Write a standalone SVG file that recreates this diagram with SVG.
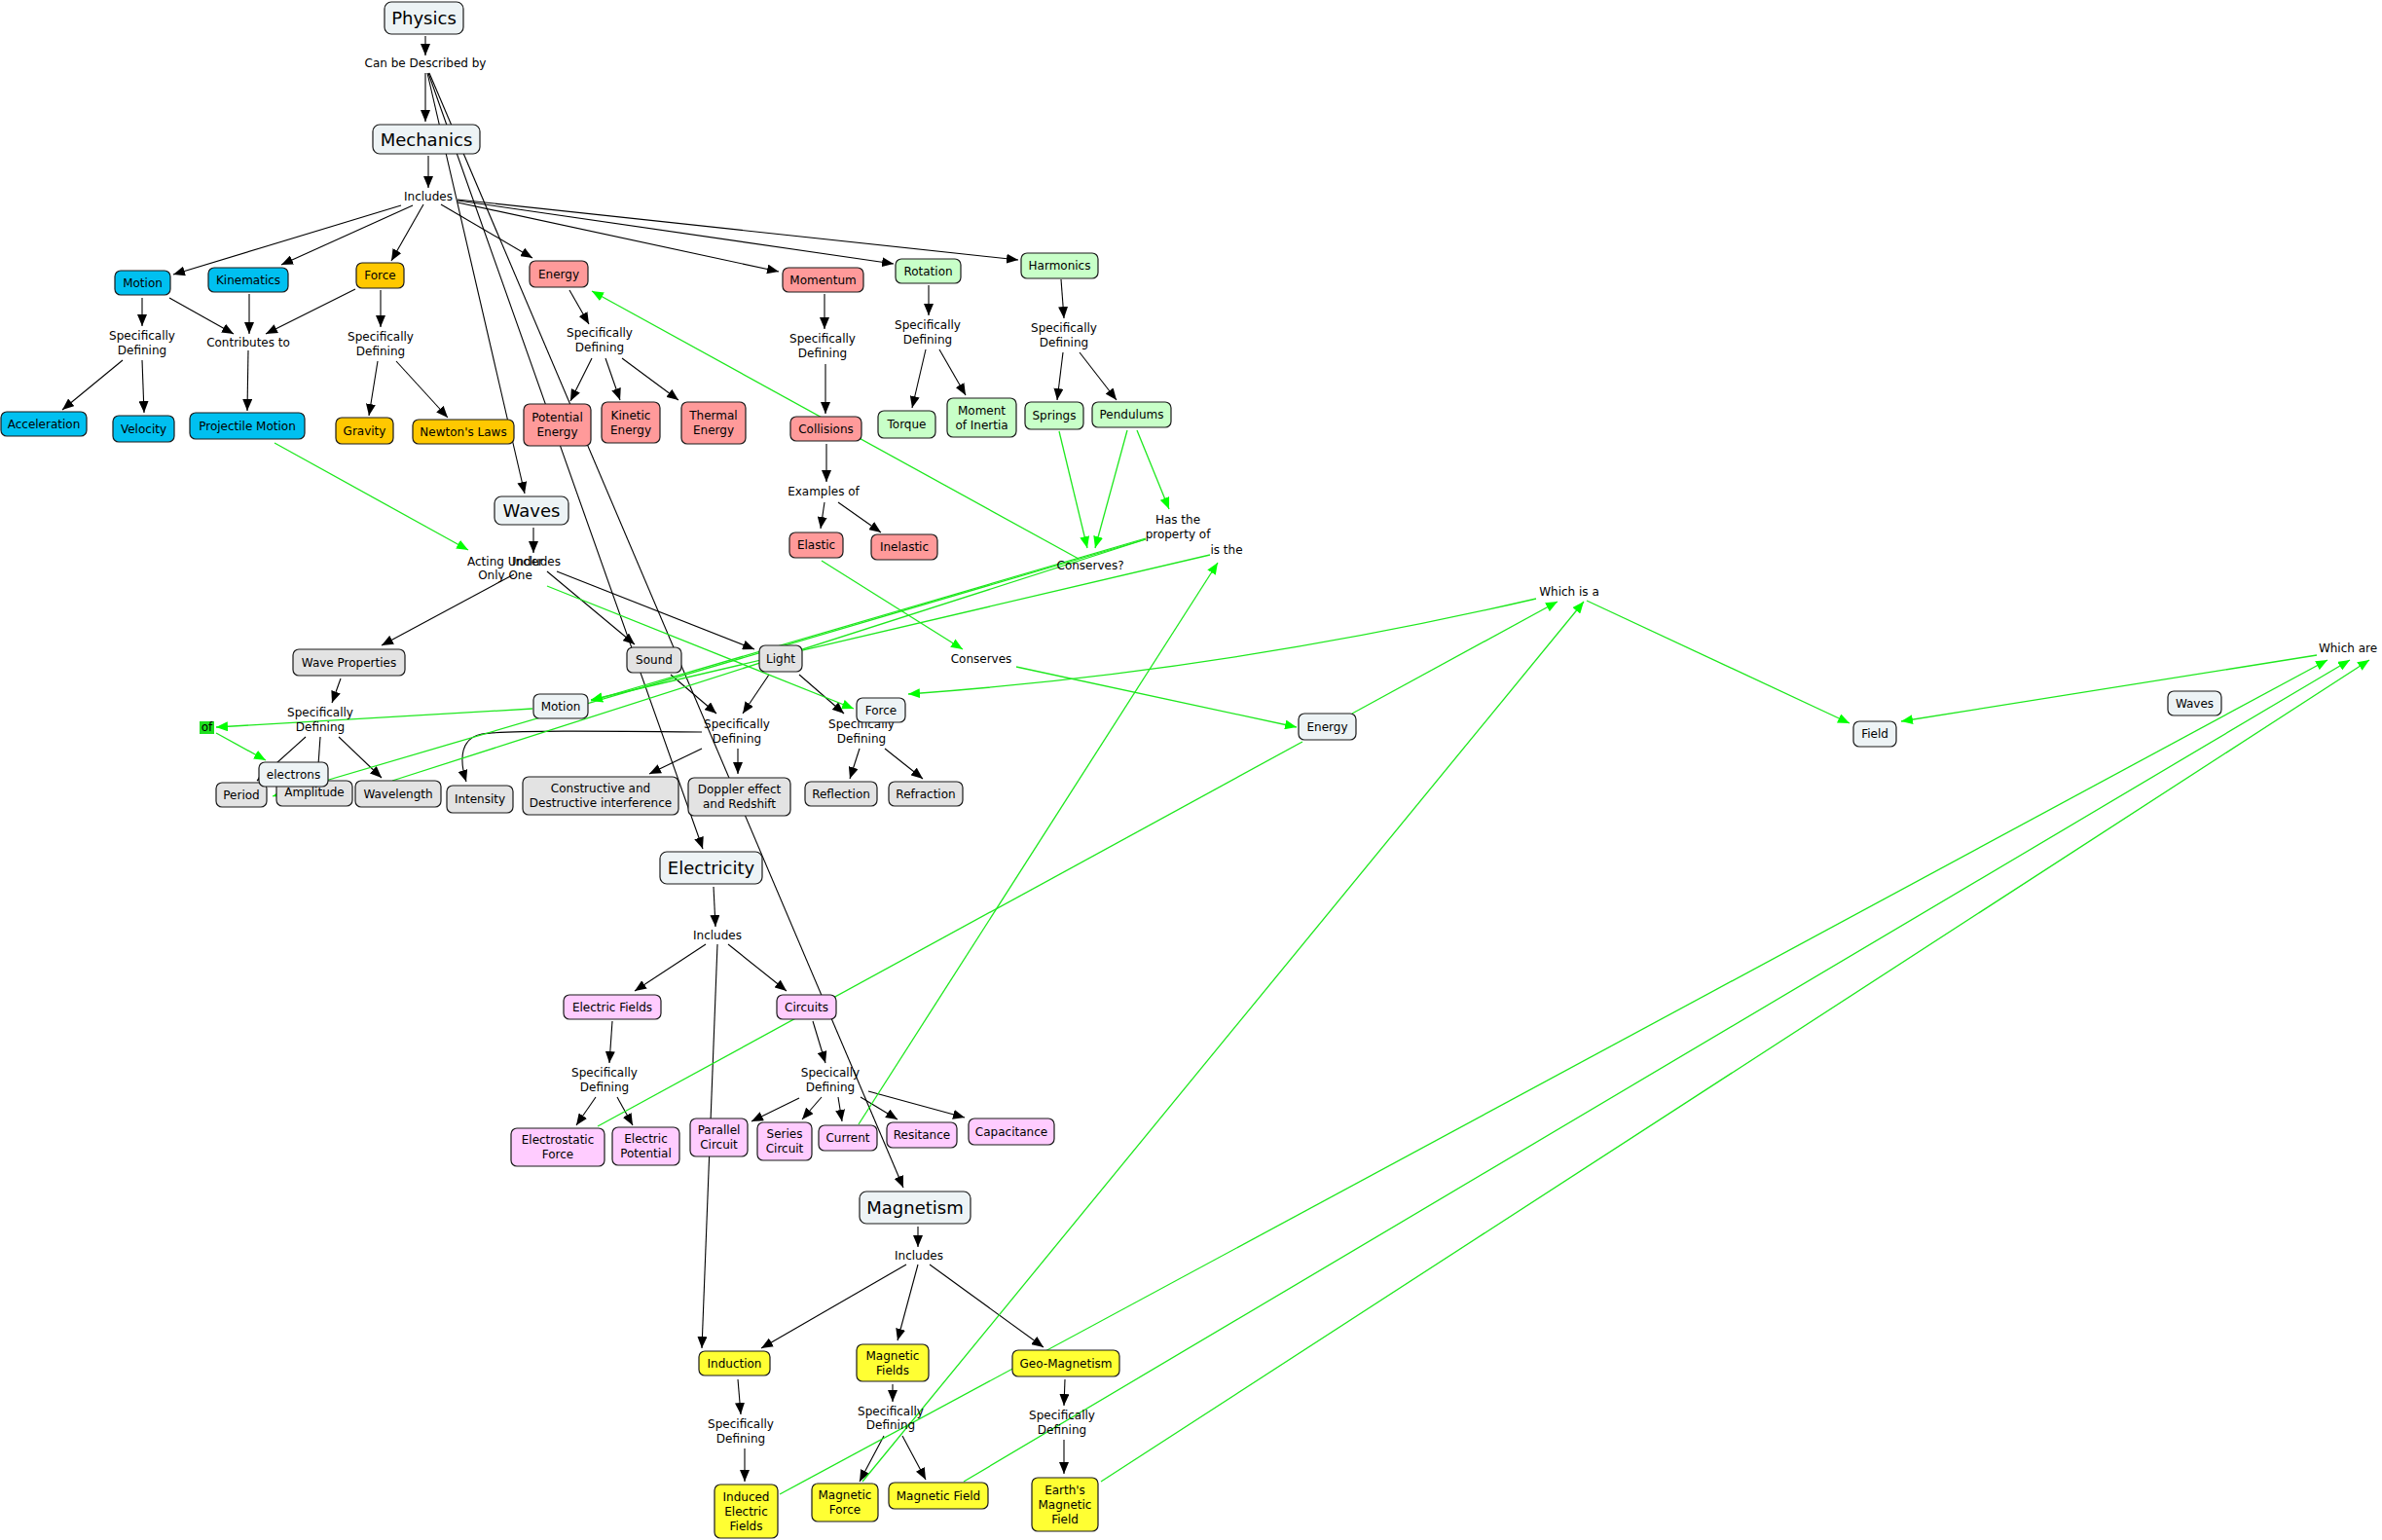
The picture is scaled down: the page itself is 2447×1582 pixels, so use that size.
<svg xmlns="http://www.w3.org/2000/svg" width="2447" height="1582" viewBox="0 0 2447 1582">
<style>
text{font-family:"DejaVu Sans",Verdana,sans-serif;font-size:12px;fill:#000;text-anchor:middle}
.big{font-size:18px}
.n rect{stroke:#1a1a1a;stroke-width:1.2}
.c1 rect{fill:#edf3f5}.cy rect{fill:#00c0f0}.or rect{fill:#ffc800}.rd rect{fill:#ff9a9a}
.gr rect{fill:#c8ffc8}.gy rect{fill:#e3e3e3}.pk rect{fill:#ffccff}.yl rect{fill:#ffff33}
.b line,.b path{stroke:#000;stroke-width:1.1;fill:none;marker-end:url(#aB)}
.g line,.g path{stroke:#1ee81e;stroke-width:1.3;fill:none;marker-end:url(#aG)}
.g .nm{marker-end:none}
</style>
<defs>
<marker id="aB" markerUnits="userSpaceOnUse" markerWidth="12" markerHeight="10" viewBox="0 0 12 10" refX="12" refY="5" orient="auto"><path d="M0,0L12,5L0,10z" fill="#000"/></marker>
<marker id="aG" markerUnits="userSpaceOnUse" markerWidth="12" markerHeight="10" viewBox="0 0 12 10" refX="12" refY="5" orient="auto"><path d="M0,0L12,5L0,10z" fill="#00ff00"/></marker>
</defs>
<rect width="2447" height="1582" fill="#fff"/>
<g id="connectors">
<g class="b">
<line x1="437" y1="37" x2="437" y2="57"/>
<line x1="437" y1="75" x2="437" y2="125"/>
<line x1="439" y1="75" x2="539" y2="507"/>
<line x1="440" y1="75" x2="722" y2="872"/>
<line x1="441" y1="75" x2="928" y2="1220"/>
<line x1="440" y1="160" x2="440" y2="193"/>
<line x1="412" y1="211" x2="178" y2="282"/>
<line x1="424" y1="211" x2="289" y2="272"/>
<line x1="435" y1="210" x2="402" y2="268"/>
<line x1="453" y1="210" x2="547" y2="265"/>
<line x1="470" y1="208" x2="800" y2="279"/>
<line x1="470" y1="206" x2="918" y2="271"/>
<line x1="470" y1="205" x2="1046" y2="267"/>
<line x1="146" y1="306" x2="146" y2="335"/>
<line x1="174" y1="306" x2="240" y2="343"/>
<line x1="256" y1="302" x2="256" y2="343"/>
<line x1="365" y1="297" x2="273" y2="343"/>
<line x1="391" y1="298" x2="391" y2="336"/>
<line x1="126" y1="370" x2="64" y2="421"/>
<line x1="146" y1="370" x2="148" y2="424"/>
<line x1="255" y1="360" x2="254" y2="422"/>
<line x1="388" y1="371" x2="379" y2="427"/>
<line x1="407" y1="371" x2="460" y2="429"/>
<line x1="585" y1="298" x2="605" y2="333"/>
<line x1="608" y1="368" x2="586" y2="412"/>
<line x1="622" y1="368" x2="637" y2="411"/>
<line x1="639" y1="368" x2="697" y2="411"/>
<line x1="847" y1="302" x2="847" y2="338"/>
<line x1="848" y1="374" x2="848" y2="425"/>
<line x1="954" y1="293" x2="954" y2="324"/>
<line x1="951" y1="359" x2="937" y2="419"/>
<line x1="965" y1="359" x2="992" y2="406"/>
<line x1="1090" y1="287" x2="1093" y2="327"/>
<line x1="1092" y1="362" x2="1086" y2="411"/>
<line x1="1109" y1="362" x2="1147" y2="411"/>
<line x1="849" y1="456" x2="849" y2="495"/>
<line x1="847" y1="516" x2="843" y2="543"/>
<line x1="861" y1="516" x2="905" y2="547"/>
<line x1="548" y1="542" x2="548" y2="568"/>
<line x1="528" y1="590" x2="392" y2="663"/>
<line x1="562" y1="587" x2="652" y2="662"/>
<line x1="572" y1="587" x2="775" y2="667"/>
<line x1="689" y1="693" x2="736" y2="733"/>
<line x1="790" y1="693" x2="763" y2="733"/>
<line x1="821" y1="693" x2="867" y2="733"/>
<path d="M721,752 C620,751 520,750 495,754 C474,758 471,778 479,803"/>
<line x1="721" y1="769" x2="667" y2="795"/>
<line x1="758" y1="769" x2="758" y2="795"/>
<line x1="883" y1="769" x2="873" y2="800"/>
<line x1="909" y1="769" x2="948" y2="800"/>
<line x1="350" y1="697" x2="341" y2="722"/>
<line x1="314" y1="757" x2="264" y2="802"/>
<line x1="329" y1="757" x2="326" y2="800"/>
<line x1="348" y1="757" x2="392" y2="799"/>
<line x1="733" y1="911" x2="735" y2="952"/>
<line x1="725" y1="970" x2="652" y2="1018"/>
<line x1="748" y1="970" x2="808" y2="1018"/>
<line x1="737" y1="970" x2="721" y2="1385"/>
<line x1="629" y1="1049" x2="626" y2="1092"/>
<line x1="612" y1="1127" x2="592" y2="1156"/>
<line x1="634" y1="1127" x2="650" y2="1156"/>
<line x1="835" y1="1049" x2="848" y2="1092"/>
<line x1="821" y1="1128" x2="772" y2="1152"/>
<line x1="844" y1="1127" x2="824" y2="1150"/>
<line x1="861" y1="1127" x2="865" y2="1152"/>
<line x1="884" y1="1127" x2="922" y2="1150"/>
<line x1="892" y1="1121" x2="991" y2="1148"/>
<line x1="943" y1="1260" x2="943" y2="1281"/>
<line x1="931" y1="1299" x2="782" y2="1385"/>
<line x1="943" y1="1299" x2="922" y2="1377"/>
<line x1="955" y1="1299" x2="1072" y2="1384"/>
<line x1="758" y1="1417" x2="761" y2="1453"/>
<line x1="765" y1="1488" x2="765" y2="1522"/>
<line x1="917" y1="1422" x2="917" y2="1440"/>
<line x1="908" y1="1475" x2="883" y2="1522"/>
<line x1="927" y1="1475" x2="951" y2="1520"/>
<line x1="1094" y1="1417" x2="1093" y2="1444"/>
<line x1="1093" y1="1479" x2="1093" y2="1514"/>
</g>
<g class="g">
<line x1="282" y1="455" x2="481" y2="565"/>
<line x1="562" y1="602" x2="877" y2="728"/>
<line x1="1108" y1="574" x2="608" y2="299"/>
<line x1="1088" y1="443" x2="1117" y2="563"/>
<line x1="1158" y1="442" x2="1125" y2="563"/>
<line x1="1168" y1="442" x2="1201" y2="523"/>
<line x1="1177" y1="553" x2="607" y2="720"/>
<line x1="1177" y1="554" x2="280" y2="818"/>
<line class="nm" x1="1177" y1="554" x2="403" y2="802"/>
<line x1="1243" y1="570" x2="607" y2="719"/>
<line x1="547" y1="728" x2="222" y2="747"/>
<line x1="222" y1="753" x2="273" y2="781"/>
<line x1="844" y1="576" x2="989" y2="667"/>
<line x1="1044" y1="685" x2="1332" y2="747"/>
<path d="M1578,615 Q1254,690 933,713"/>
<line x1="1389" y1="733" x2="1600" y2="618"/>
<line x1="886" y1="1522" x2="1627" y2="618"/>
<line x1="1630" y1="617" x2="1900" y2="743"/>
<line x1="2380" y1="673" x2="1953" y2="741"/>
<line x1="801" y1="1535" x2="2391" y2="678"/>
<line x1="990" y1="1522" x2="2414" y2="678"/>
<line x1="1131" y1="1522" x2="2434" y2="678"/>
<line x1="882" y1="1155" x2="1251" y2="578"/>
<line class="nm" x1="614" y1="1157" x2="1338" y2="762"/>
</g>
</g>
<g id="labels">
<g id="l-described"><text x="437" y="69.3">Can be Described by</text></g>
<g id="l-includes-mech"><text x="440" y="206.3">Includes</text></g>
<g id="l-sd-motion"><text x="146" y="349.3">Specifically</text><text x="146" y="363.8">Defining</text></g>
<g id="l-contributes"><text x="255" y="356.3">Contributes to</text></g>
<g id="l-sd-force"><text x="391" y="350.3">Specifically</text><text x="391" y="365.3">Defining</text></g>
<g id="l-sd-energy"><text x="616" y="346.3">Specifically</text><text x="616" y="361.3">Defining</text></g>
<g id="l-sd-momentum"><text x="845" y="352.3">Specifically</text><text x="845" y="367.3">Defining</text></g>
<g id="l-sd-rotation"><text x="953" y="338.3">Specifically</text><text x="953" y="353.3">Defining</text></g>
<g id="l-sd-harmonics"><text x="1093" y="341.3">Specifically</text><text x="1093" y="356.3">Defining</text></g>
<g id="l-examples"><text x="846" y="509.3">Examples of</text></g>
<g id="l-hasprop"><text x="1210" y="538.3">Has the</text><text x="1210" y="553.3">property of</text></g>
<g id="l-isthe"><text x="1260" y="569.3">is the</text></g>
<g id="l-conserves-q"><text x="1120" y="585.3">Conserves?</text></g>
<g id="l-conserves"><text x="1008" y="681.3">Conserves</text></g>
<g id="l-whichisa"><text x="1612" y="612.3">Which is a</text></g>
<g id="l-whichare"><text x="2412" y="670.3">Which are</text></g>
<g id="l-acting"><text x="519" y="581.3">Acting Under</text><text x="519" y="595.3">Only One</text></g>
<g id="l-includes-waves"><text x="551" y="581.3">Includes</text></g>
<g id="l-sd-wp"><text x="329" y="736.3">Specifically</text><text x="329" y="751.3">Defining</text></g>
<g id="l-of"><rect x="205" y="741" width="15" height="13" fill="#1ee01e"/><text x="212.5" y="751.3">of</text></g>
<g id="l-sd-sound"><text x="757" y="748.3">Specifically</text><text x="757" y="763.3">Defining</text></g>
<g id="l-sd-light"><text x="885" y="748.3">Specifically</text><text x="885" y="763.3">Defining</text></g>
<g id="l-includes-elec"><text x="737" y="965.3">Includes</text></g>
<g id="l-sd-ef"><text x="621" y="1106.3">Specifically</text><text x="621" y="1121.3">Defining</text></g>
<g id="l-sd-circ"><text x="853" y="1106.3">Specically</text><text x="853" y="1121.3">Defining</text></g>
<g id="l-includes-mag"><text x="944" y="1294.3">Includes</text></g>
<g id="l-sd-ind"><text x="761" y="1467.3">Specifically</text><text x="761" y="1482.3">Defining</text></g>
<g id="l-sd-mf"><text x="915" y="1454.3">Specifically</text><text x="915" y="1468.3">Defining</text></g>
<g id="l-sd-geo"><text x="1091" y="1458.3">Specifically</text><text x="1091" y="1473.3">Defining</text></g>
</g>
<g id="nodes">
<g id="physics" class="n c1"><rect x="395" y="2" width="81" height="33" rx="7"/><text class="big" x="435.5" y="25">Physics</text></g>
<g id="mechanics" class="n c1"><rect x="383" y="128" width="110" height="30" rx="7"/><text class="big" x="438" y="149.5">Mechanics</text></g>
<g id="waves" class="n c1"><rect x="508" y="510" width="76" height="29" rx="7"/><text class="big" x="546" y="531">Waves</text></g>
<g id="electricity" class="n c1"><rect x="678" y="875" width="105" height="33" rx="7"/><text class="big" x="730.5" y="898">Electricity</text></g>
<g id="magnetism" class="n c1"><rect x="883" y="1224" width="114" height="33" rx="7"/><text class="big" x="940" y="1247">Magnetism</text></g>
<g id="motion" class="n cy"><rect x="118" y="278" width="57" height="25" rx="6"/><text x="146.5" y="294.8">Motion</text></g>
<g id="kinematics" class="n cy"><rect x="214" y="275" width="82" height="25" rx="6"/><text x="255" y="291.8">Kinematics</text></g>
<g id="force" class="n or"><rect x="366" y="270" width="49" height="26" rx="6"/><text x="390.5" y="287.3">Force</text></g>
<g id="energy" class="n rd"><rect x="544" y="268" width="60" height="27" rx="6"/><text x="574" y="285.8">Energy</text></g>
<g id="momentum" class="n rd"><rect x="804" y="275" width="83" height="25" rx="6"/><text x="845.5" y="291.8">Momentum</text></g>
<g id="rotation" class="n gr"><rect x="920" y="266" width="67" height="25" rx="6"/><text x="953.5" y="282.8">Rotation</text></g>
<g id="harmonics" class="n gr"><rect x="1049" y="260" width="79" height="26" rx="6"/><text x="1088.5" y="277.3">Harmonics</text></g>
<g id="acceleration" class="n cy"><rect x="1" y="423" width="88" height="25" rx="6"/><text x="45" y="439.8">Acceleration</text></g>
<g id="velocity" class="n cy"><rect x="116" y="427" width="63" height="27" rx="6"/><text x="147.5" y="444.8">Velocity</text></g>
<g id="projectile" class="n cy"><rect x="195" y="424" width="118" height="27" rx="6"/><text x="254" y="441.8">Projectile Motion</text></g>
<g id="gravity" class="n or"><rect x="345" y="429" width="59" height="27" rx="6"/><text x="374.5" y="446.8">Gravity</text></g>
<g id="newton" class="n or"><rect x="424" y="431" width="104" height="25" rx="6"/><text x="476" y="447.8">Newton's Laws</text></g>
<g id="potential" class="n rd"><rect x="538" y="415" width="69" height="43" rx="6"/><text x="572.5" y="433.3">Potential</text><text x="572.5" y="448.3">Energy</text></g>
<g id="kinetic" class="n rd"><rect x="618" y="413" width="60" height="42" rx="6"/><text x="648" y="430.8">Kinetic</text><text x="648" y="445.8">Energy</text></g>
<g id="thermal" class="n rd"><rect x="700" y="413" width="66" height="43" rx="6"/><text x="733" y="431.3">Thermal</text><text x="733" y="446.3">Energy</text></g>
<g id="collisions" class="n rd"><rect x="812" y="428" width="73" height="25" rx="6"/><text x="848.5" y="444.8">Collisions</text></g>
<g id="torque" class="n gr"><rect x="902" y="422" width="59" height="28" rx="6"/><text x="931.5" y="440.3">Torque</text></g>
<g id="inertia" class="n gr"><rect x="973" y="409" width="71" height="40" rx="6"/><text x="1008.5" y="425.8">Moment</text><text x="1008.5" y="440.8">of Inertia</text></g>
<g id="springs" class="n gr"><rect x="1053" y="413" width="60" height="28" rx="6"/><text x="1083" y="431.3">Springs</text></g>
<g id="pendulums" class="n gr"><rect x="1122" y="413" width="81" height="26" rx="6"/><text x="1162.5" y="430.3">Pendulums</text></g>
<g id="elastic" class="n rd"><rect x="811" y="547" width="55" height="26" rx="6"/><text x="838.5" y="564.3">Elastic</text></g>
<g id="inelastic" class="n rd"><rect x="895" y="549" width="68" height="26" rx="6"/><text x="929" y="566.3">Inelastic</text></g>
<g id="waveprops" class="n gy"><rect x="301" y="667" width="115" height="27" rx="6"/><text x="358.5" y="684.8">Wave Properties</text></g>
<g id="sound" class="n gy"><rect x="644" y="665" width="56" height="26" rx="6"/><text x="672" y="682.3">Sound</text></g>
<g id="light" class="n gy"><rect x="780" y="663" width="44" height="27" rx="6"/><text x="802" y="680.8">Light</text></g>
<g id="motion2" class="n c1"><rect x="548" y="713" width="56" height="25" rx="6"/><text x="576" y="729.8">Motion</text></g>
<g id="force2" class="n c1"><rect x="880" y="717" width="50" height="25" rx="6"/><text x="905" y="733.8">Force</text></g>
<g id="energy2" class="n c1"><rect x="1334" y="733" width="59" height="27" rx="6"/><text x="1363.5" y="750.8">Energy</text></g>
<g id="field" class="n c1"><rect x="1904" y="741" width="44" height="26" rx="6"/><text x="1926" y="758.3">Field</text></g>
<g id="waves2" class="n c1"><rect x="2227" y="710" width="55" height="25" rx="6"/><text x="2254.5" y="726.8">Waves</text></g>
<g id="period" class="n gy"><rect x="222" y="804" width="52" height="25" rx="6"/><text x="248" y="820.8">Period</text></g>
<g id="amplitude" class="n gy"><rect x="284" y="802" width="78" height="26" rx="6"/><text x="323" y="818.3">Amplitude</text></g>
<g id="electrons" class="n c1"><rect x="266" y="783" width="71" height="25" rx="6"/><text x="301.5" y="799.8">electrons</text></g>
<g id="wavelength" class="n gy"><rect x="365" y="802" width="88" height="27" rx="6"/><text x="409" y="819.8">Wavelength</text></g>
<g id="intensity" class="n gy"><rect x="459" y="807" width="68" height="28" rx="6"/><text x="493" y="825.3">Intensity</text></g>
<g id="constructive" class="n gy"><rect x="537" y="798" width="160" height="39" rx="6"/><text x="617" y="814.3">Constructive and</text><text x="617" y="829.3">Destructive interference</text></g>
<g id="doppler" class="n gy"><rect x="707" y="799" width="105" height="39" rx="6"/><text x="759.5" y="815.3">Doppler effect</text><text x="759.5" y="830.3">and Redshift</text></g>
<g id="reflection" class="n gy"><rect x="827" y="803" width="74" height="25" rx="6"/><text x="864" y="819.8">Reflection</text></g>
<g id="refraction" class="n gy"><rect x="913" y="803" width="76" height="25" rx="6"/><text x="951" y="819.8">Refraction</text></g>
<g id="efields" class="n pk"><rect x="579" y="1022" width="100" height="25" rx="6"/><text x="629" y="1038.8">Electric Fields</text></g>
<g id="circuits" class="n pk"><rect x="798" y="1022" width="61" height="25" rx="6"/><text x="828.5" y="1038.8">Circuits</text></g>
<g id="electrostatic" class="n pk"><rect x="525" y="1159" width="96" height="39" rx="6"/><text x="573" y="1175.3">Electrostatic</text><text x="573" y="1190.3">Force</text></g>
<g id="epotential" class="n pk"><rect x="629" y="1158" width="69" height="39" rx="6"/><text x="663.5" y="1174.3">Electric</text><text x="663.5" y="1189.3">Potential</text></g>
<g id="parallel" class="n pk"><rect x="709" y="1149" width="59" height="39" rx="6"/><text x="738.5" y="1165.3">Parallel</text><text x="738.5" y="1180.3">Circuit</text></g>
<g id="series" class="n pk"><rect x="778" y="1153" width="56" height="39" rx="6"/><text x="806" y="1169.3">Series</text><text x="806" y="1184.3">Circuit</text></g>
<g id="current" class="n pk"><rect x="841" y="1156" width="60" height="26" rx="6"/><text x="871" y="1173.3">Current</text></g>
<g id="resitance" class="n pk"><rect x="911" y="1153" width="72" height="26" rx="6"/><text x="947" y="1170.3">Resitance</text></g>
<g id="capacitance" class="n pk"><rect x="995" y="1149" width="88" height="27" rx="6"/><text x="1039" y="1166.8">Capacitance</text></g>
<g id="induction" class="n yl"><rect x="718" y="1388" width="73" height="25" rx="6"/><text x="754.5" y="1404.8">Induction</text></g>
<g id="mfields" class="n yl"><rect x="880" y="1381" width="74" height="38" rx="6"/><text x="917" y="1396.8">Magnetic</text><text x="917" y="1411.8">Fields</text></g>
<g id="geomag" class="n yl"><rect x="1040" y="1387" width="110" height="27" rx="6"/><text x="1095" y="1404.8">Geo-Magnetism</text></g>
<g id="induced" class="n yl"><rect x="734" y="1525" width="65" height="55" rx="6"/><text x="766.5" y="1541.8">Induced</text><text x="766.5" y="1556.8">Electric</text><text x="766.5" y="1571.8">Fields</text></g>
<g id="mforce" class="n yl"><rect x="834" y="1524" width="68" height="39" rx="6"/><text x="868" y="1540.3">Magnetic</text><text x="868" y="1555.3">Force</text></g>
<g id="mfield" class="n yl"><rect x="913" y="1523" width="102" height="27" rx="6"/><text x="964" y="1540.8">Magnetic Field</text></g>
<g id="earth" class="n yl"><rect x="1060" y="1518" width="68" height="55" rx="6"/><text x="1094" y="1534.8">Earth's</text><text x="1094" y="1549.8">Magnetic</text><text x="1094" y="1564.8">Field</text></g>
</g>
</svg>
